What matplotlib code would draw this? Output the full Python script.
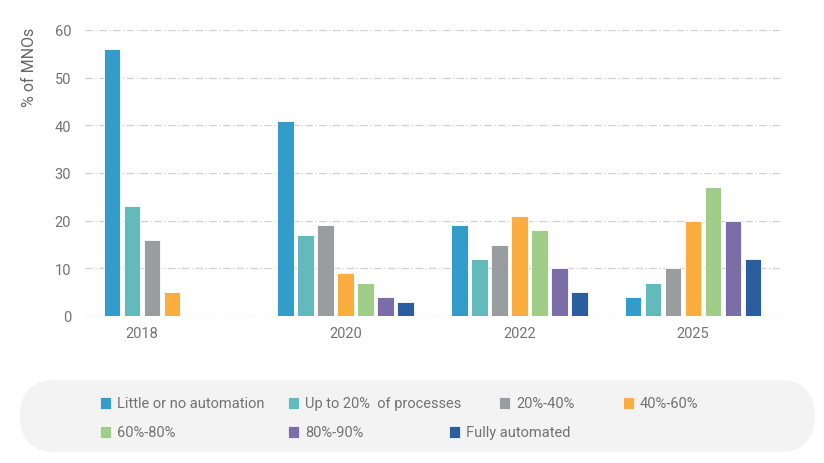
import matplotlib
matplotlib.use("Agg")
import matplotlib.pyplot as plt
from matplotlib.patches import FancyBboxPatch, Rectangle
import numpy as np

plt.rcParams['font.family'] = ['Roboto', 'DejaVu Sans']

years = ["2018", "2020", "2022", "2025"]
levels = ["Little or no automation", "Up to 20%  of processes", "20%-40%", "40%-60%",
          "60%-80%", "80%-90%", "Fully automated"]
colors = ["#339ccb", "#62babd", "#9a9da0", "#fbae3f", "#a0ce89", "#7a6da8", "#2b5e9e"]
share = [
    [56, 23, 16, 5, 0, 0, 0],     # 2018
    [41, 17, 19, 9, 7, 4, 3],     # 2020
    [19, 12, 15, 21, 18, 10, 5],  # 2022
    [4, 7, 10, 20, 27, 20, 12],   # 2025
]

text_col = "#737373"
W, H = 824, 464
fig = plt.figure(figsize=(W / 100, H / 100), dpi=100)
ax = fig.add_axes([85 / W, 1 - 317 / H, 695 / W, 286 / H])

step = 0.115
width = 0.095
label_pos = []
for g, vals in enumerate(share):
    offs = (np.arange(len(levels)) - (len(levels) - 1) / 2) * step
    drawn = []
    for k, v in enumerate(vals):
        if v <= 0:
            continue
        ax.bar(g + offs[k], v, width, color=colors[k], edgecolor="white",
               linewidth=0.6, zorder=3)
        drawn.append(g + offs[k])
    label_pos.append(np.mean(drawn))

ax.set_xlim(-0.5, 3.5)
ax.set_ylim(0, 60)
ax.set_yticks(range(0, 61, 10))
ax.set_xticks(label_pos)
ax.set_xticklabels(years)
ax.grid(axis="y", color="#cfcfcf", linestyle=(0, (6, 2, 1, 2)), linewidth=0.9, zorder=0)
for s in ax.spines.values():
    s.set_visible(False)
ax.tick_params(length=0, colors=text_col, labelsize=10.5)
ax.tick_params(axis="y", pad=10)
ax.tick_params(axis="x", pad=7)

fig.text(29 / W, 1 - 67 / H, "% of MNOs", rotation=90, ha="center", va="center",
         color="#666666", fontsize=11.5)

# legend panel
box = FancyBboxPatch((20 / 100, (H - 453) / 100), 795 / 100, 72 / 100,
                     boxstyle="round,pad=0,rounding_size=0.36",
                     transform=fig.dpi_scale_trans, facecolor="#f3f3f3",
                     edgecolor="none")
fig.patches.append(box)

leg_x = [100, 288, 499, 623, 100, 288, 449]
leg_y = [404, 404, 404, 404, 433, 433, 433]
for k, name in enumerate(levels):
    x, y = leg_x[k], leg_y[k]
    fig.patches.append(Rectangle((x / W, 1 - (y + 6) / H), 11 / W, 12 / H,
                                 transform=fig.transFigure, facecolor=colors[k],
                                 edgecolor="white", linewidth=0.5))
    fig.text((x + 17) / W, 1 - y / H, name, ha="left", va="center",
             color=text_col, fontsize=10.5)

fig.savefig("out.png", dpi=100)
